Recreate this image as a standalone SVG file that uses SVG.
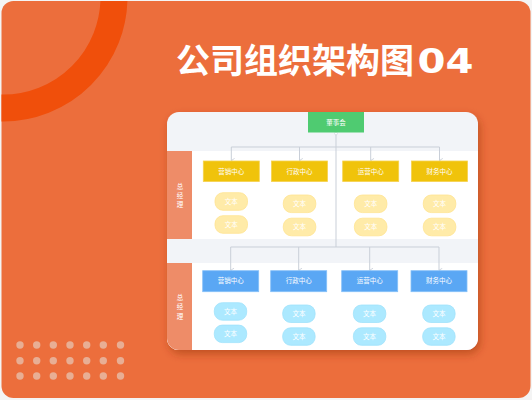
<svg xmlns="http://www.w3.org/2000/svg" width="532" height="400" viewBox="0 0 532 400">
<style>
.t{font-family:"Noto Sans CJK SC","Noto Sans",sans-serif;fill:#fff;text-anchor:middle}
.s{font-size:6.5px}
.yb{fill:#F0C30B;stroke:#F6D24E;stroke-width:0.8}
.bb{fill:#5AA7F4;stroke:#86C0F8;stroke-width:0.8}
.yp{fill:#FFEBA8;stroke:#FFE391;stroke-width:0.8}
.bp{fill:#ACE9FF;stroke:#9FE2FB;stroke-width:0.8}
.ln{stroke:#C9CFD8;stroke-width:1;fill:none}
.dot{fill:#E8AE94}
</style>
<defs>
<filter id="sh" x="-10%" y="-10%" width="125%" height="130%">
<feDropShadow dx="2" dy="4" stdDeviation="4" flood-color="#8A2A05" flood-opacity="0.45"/>
</filter>
<clipPath id="cardclip"><rect x="167" y="112" width="311" height="238" rx="12"/></clipPath>
<clipPath id="bgclip"><rect x="1.5" y="1" width="529" height="397" rx="12"/></clipPath>
<marker id="ar" viewBox="0 0 6 6" refX="3" refY="5" markerWidth="5" markerHeight="5" orient="auto-start-reverse" markerUnits="userSpaceOnUse">
<path d="M0.5,1 L3,5 L5.5,1" fill="none" stroke="#C9CFD8" stroke-width="1"/>
</marker>
</defs>
<rect width="532" height="400" fill="#F4F4F4"/>
<g id="background">
<rect x="1.5" y="1" width="529" height="397" rx="12" fill="#EC6E3C"/>
<circle cx="3" cy="-3" r="111" fill="none" stroke="#F04F0B" stroke-width="27" clip-path="url(#bgclip)"/>
</g>
<g id="title">
<text x="176" y="72.5" class="t" style="text-anchor:start;font-size:34px;font-weight:700">公司组织架构图</text>
<text transform="translate(417.5,72.5) scale(1.22,1)" x="0" y="0" style="font-family:'DejaVu Sans',sans-serif;fill:#fff;font-size:33px;font-weight:700">04</text>
</g>
<g id="dots">
<circle class="dot" cx="20" cy="345" r="3.7"/><circle class="dot" cx="36.7" cy="345" r="3.7"/><circle class="dot" cx="53.3" cy="345" r="3.7"/><circle class="dot" cx="70" cy="345" r="3.7"/><circle class="dot" cx="86.7" cy="345" r="3.7"/><circle class="dot" cx="103.3" cy="345" r="3.7"/><circle class="dot" cx="120.5" cy="345" r="3.7"/>
<circle class="dot" cx="20" cy="360.7" r="3.7"/><circle class="dot" cx="36.7" cy="360.7" r="3.7"/><circle class="dot" cx="53.3" cy="360.7" r="3.7"/><circle class="dot" cx="70" cy="360.7" r="3.7"/><circle class="dot" cx="86.7" cy="360.7" r="3.7"/><circle class="dot" cx="103.3" cy="360.7" r="3.7"/><circle class="dot" cx="120.5" cy="360.7" r="3.7"/>
<circle class="dot" cx="20" cy="376" r="3.7"/><circle class="dot" cx="36.7" cy="376" r="3.7"/><circle class="dot" cx="53.3" cy="376" r="3.7"/><circle class="dot" cx="70" cy="376" r="3.7"/><circle class="dot" cx="86.7" cy="376" r="3.7"/><circle class="dot" cx="103.3" cy="376" r="3.7"/><circle class="dot" cx="120.5" cy="376" r="3.7"/>
</g>
<g id="card">
<rect x="167" y="112" width="311" height="238" rx="12" fill="#F2F4F8" filter="url(#sh)"/>
<g clip-path="url(#cardclip)">
<rect x="167" y="151" width="311" height="88" fill="#FFFFFF"/>
<rect x="167" y="263" width="311" height="87" fill="#FFFFFF"/>
<rect x="167" y="151" width="25" height="88" fill="#EE8C68"/>
<rect x="167" y="263" width="25" height="87" fill="#EE8C68"/>
</g>
</g>
<g id="label-gm-1">
<text class="t s" x="180" y="188.5">总</text>
<text class="t s" x="180" y="197.5">经</text>
<text class="t s" x="180" y="206.5">理</text>
</g>
<g id="label-gm-2">
<text class="t s" x="180" y="300">总</text>
<text class="t s" x="180" y="309">经</text>
<text class="t s" x="180" y="318.5">理</text>
</g>
<g id="connectors">
<line class="ln" x1="336" y1="133" x2="336" y2="247"/>
<path class="ln" d="M231.3,147 H439.5"/>
<line class="ln" x1="231.3" y1="147" x2="231.3" y2="160.5" marker-end="url(#ar)"/>
<line class="ln" x1="299.5" y1="147" x2="299.5" y2="160.5" marker-end="url(#ar)"/>
<line class="ln" x1="370.7" y1="147" x2="370.7" y2="160.5" marker-end="url(#ar)"/>
<line class="ln" x1="439.5" y1="147" x2="439.5" y2="160.5" marker-end="url(#ar)"/>
<path class="ln" d="M230.7,247 H439"/>
<line class="ln" x1="230.7" y1="247" x2="230.7" y2="270.3" marker-end="url(#ar)"/>
<line class="ln" x1="298.7" y1="247" x2="298.7" y2="270.3" marker-end="url(#ar)"/>
<line class="ln" x1="369.7" y1="247" x2="369.7" y2="270.3" marker-end="url(#ar)"/>
<line class="ln" x1="439" y1="247" x2="439" y2="270.3" marker-end="url(#ar)"/>
<circle cx="336" cy="133.5" r="1.4" fill="#fff" stroke="#C9CFD8" stroke-width="0.6"/>
</g>
<g id="board">
<rect x="308" y="112" width="56" height="20.5" fill="#4FCB71"/>
<text class="t s" x="336" y="124.5">董事会</text>
</g>
<g id="y-marketing">
<rect class="yb" x="203.3" y="161" width="56" height="20.5"/>
<text class="t s" x="231.3" y="173.5">营销中心</text>
</g>
<g id="y-admin">
<rect class="yb" x="271.5" y="161" width="56" height="20.5"/>
<text class="t s" x="299.5" y="173.5">行政中心</text>
</g>
<g id="y-ops">
<rect class="yb" x="342.7" y="161" width="56" height="20.5"/>
<text class="t s" x="370.7" y="173.5">运营中心</text>
</g>
<g id="y-finance">
<rect class="yb" x="411.5" y="161" width="56" height="20.5"/>
<text class="t s" x="439.5" y="173.5">财务中心</text>
</g>
<g id="y-text-1a"><rect class="yp" x="215" y="192.7" width="32.5" height="17.6" rx="8"/><text class="t s" x="231.3" y="203.8">文本</text></g>
<g id="y-text-1b"><rect class="yp" x="215" y="215.7" width="32.5" height="17.6" rx="8"/><text class="t s" x="231.3" y="226.8">文本</text></g>
<g id="y-text-2a"><rect class="yp" x="283.3" y="195" width="32.5" height="17.6" rx="8"/><text class="t s" x="299.5" y="206.1">文本</text></g>
<g id="y-text-2b"><rect class="yp" x="283.3" y="218.2" width="32.5" height="17.6" rx="8"/><text class="t s" x="299.5" y="229.3">文本</text></g>
<g id="y-text-3a"><rect class="yp" x="354.4" y="195" width="32.5" height="17.6" rx="8"/><text class="t s" x="370.7" y="206.1">文本</text></g>
<g id="y-text-3b"><rect class="yp" x="354.4" y="218.2" width="32.5" height="17.6" rx="8"/><text class="t s" x="370.7" y="229.3">文本</text></g>
<g id="y-text-4a"><rect class="yp" x="423.3" y="195" width="32.5" height="17.6" rx="8"/><text class="t s" x="439.5" y="206.1">文本</text></g>
<g id="y-text-4b"><rect class="yp" x="423.3" y="218.2" width="32.5" height="17.6" rx="8"/><text class="t s" x="439.5" y="229.3">文本</text></g>
<g id="b-marketing">
<rect class="bb" x="202.7" y="270.7" width="56" height="21"/>
<text class="t s" x="230.7" y="283.4">营销中心</text>
</g>
<g id="b-admin">
<rect class="bb" x="270.7" y="270.7" width="56" height="21"/>
<text class="t s" x="298.7" y="283.4">行政中心</text>
</g>
<g id="b-ops">
<rect class="bb" x="341.7" y="270.7" width="56" height="21"/>
<text class="t s" x="369.7" y="283.4">运营中心</text>
</g>
<g id="b-finance">
<rect class="bb" x="411" y="270.7" width="56" height="21"/>
<text class="t s" x="439" y="283.4">财务中心</text>
</g>
<g id="b-text-1a"><rect class="bp" x="214.3" y="302.7" width="32.4" height="17.5" rx="8"/><text class="t s" x="230.5" y="313.7">文本</text></g>
<g id="b-text-1b"><rect class="bp" x="214.3" y="325.1" width="32.4" height="17.5" rx="8"/><text class="t s" x="230.5" y="336.1">文本</text></g>
<g id="b-text-2a"><rect class="bp" x="282.7" y="305" width="32.4" height="17.5" rx="8"/><text class="t s" x="298.9" y="316">文本</text></g>
<g id="b-text-2b"><rect class="bp" x="282.7" y="327.8" width="32.4" height="17.5" rx="8"/><text class="t s" x="298.9" y="338.8">文本</text></g>
<g id="b-text-3a"><rect class="bp" x="353.4" y="305" width="32.4" height="17.5" rx="8"/><text class="t s" x="369.6" y="316">文本</text></g>
<g id="b-text-3b"><rect class="bp" x="353.4" y="327.8" width="32.4" height="17.5" rx="8"/><text class="t s" x="369.6" y="338.8">文本</text></g>
<g id="b-text-4a"><rect class="bp" x="422.7" y="305" width="32.4" height="17.5" rx="8"/><text class="t s" x="438.9" y="316">文本</text></g>
<g id="b-text-4b"><rect class="bp" x="422.7" y="327.8" width="32.4" height="17.5" rx="8"/><text class="t s" x="438.9" y="338.8">文本</text></g>
</svg>
